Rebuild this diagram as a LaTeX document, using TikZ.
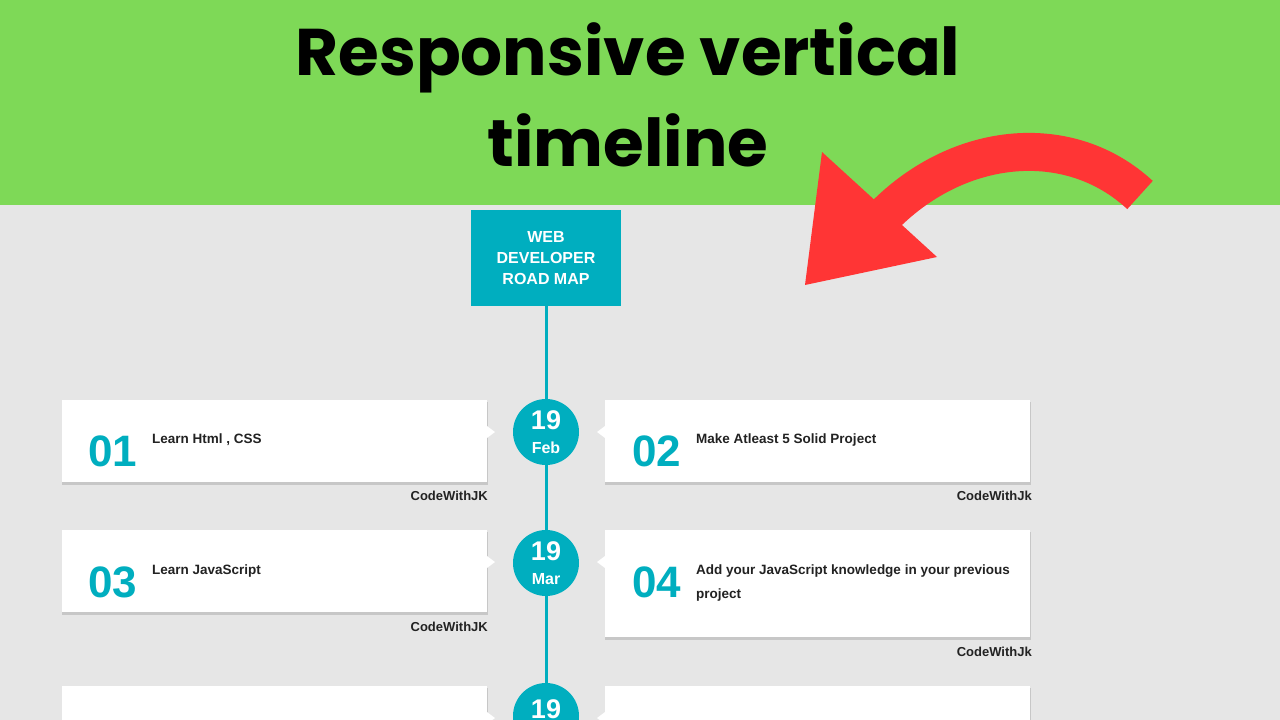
\documentclass[tikz,border=0pt]{standalone}
\usepackage{fontspec}
\setmainfont{Liberation Sans}
\newfontfamily\titlefont{Poppins}
\begin{document}
\begin{tikzpicture}[x=1pt,y=-1pt]
\definecolor{green1}{HTML}{7ED957}
\definecolor{bg}{HTML}{E6E6E6}
\definecolor{teal1}{HTML}{00AEBF}
\definecolor{red1}{HTML}{FF3535}
\definecolor{txt}{HTML}{222222}
\tikzset{
 card/.style={fill=white,draw=none},
 shadow/.style={fill=black!22,draw=none},
 num/.style={text=teal1,font=\bfseries\fontsize{44}{44}\selectfont,anchor=base west,inner sep=0},
 lbl/.style={text=txt,font=\bfseries\fontsize{13.5}{24}\selectfont,anchor=north west,inner sep=0,align=left},
 sig/.style={text=txt,font=\bfseries\fontsize{13}{13}\selectfont,anchor=base east,inner sep=0},
 dot/.style={circle,fill=teal1,minimum size=66pt,inner sep=0},
 day/.style={text=white,font=\bfseries\fontsize{27}{27}\selectfont,anchor=base,inner sep=0},
 mon/.style={text=white,font=\bfseries\fontsize{16}{16}\selectfont,anchor=base,inner sep=0},
}
\useasboundingbox (0,0) rectangle (1280,720);
\fill[bg] (0,0) rectangle (1280,720);
\fill[green1] (0,0) rectangle (1280,205);
\node[font=\titlefont\bfseries\fontsize{66}{66}\selectfont,inner sep=0] (t1) at (628,58) {Responsive vertical};
\node[font=\titlefont\bfseries\fontsize{66}{66}\selectfont,inner sep=0] (t2) at (628,140) {timeline};
% red arrow
\draw[red1,line width=38pt] (1140,195) .. controls (1070,130) and (960,140) .. (885,215);
\fill[red1] (822,152) -- (805,285) -- (937,257) -- cycle;
% header
\node[fill=teal1,text=white,minimum width=150pt,minimum height=96pt,align=center,
 font=\bfseries\fontsize{16}{21}\selectfont] (hdr) at (546,258) {WEB\\DEVELOPER\\ROAD MAP};
\coordinate (bot) at (546,720);
\draw[teal1,line width=3pt] (hdr.south) -- (bot);
% cards
\foreach \y/\h in {400/82,530/82,686/60}{
 \fill[shadow] (62,\y+2) rectangle (488,\y+\h+3);
 \fill[card] (62,\y) rectangle (487,\y+\h);
 \fill[card] (487,\y+26) -- (495,\y+32) -- (487,\y+38) -- cycle;
}
\foreach \y/\h in {400/82,530/107,686/60}{
 \fill[shadow] (605,\y+2) rectangle (1031,\y+\h+3);
 \fill[card] (605,\y) rectangle (1030,\y+\h);
 \fill[card] (605,\y+26) -- (597,\y+32) -- (605,\y+38) -- cycle;
}
\node[dot] (c1) at (546,432) {};
\node[day] (d1) at (546,429) {19};
\node[mon] (m1) at (546,453) {Feb};
\node[dot] (c2) at (546,563) {};
\node[day] (d2) at (546,560) {19};
\node[mon] (m2) at (546,584) {Mar};
\node[dot] (c3) at (546,716) {};
\node[day] (d3) at (546,718) {19};
\node[num] (n1) at (88,466) {01};
\node[lbl] (l1) at (152,434) {Learn Html , CSS};
\node[sig] (s1) at (488,500) {CodeWithJK};
\node[num] (n2) at (632,466) {02};
\node[lbl] (l2) at (696,434) {Make Atleast 5 Solid Project};
\node[sig] (s2) at (1032,500) {CodeWithJk};
\node[num] (n3) at (88,597) {03};
\node[lbl] (l3) at (152,565) {Learn JavaScript};
\node[sig] (s3) at (488,631) {CodeWithJK};
\node[num] (n4) at (632,597) {04};
\node[lbl] (l4) at (696,565) {Add your JavaScript knowledge in your previous\\project};
\node[sig] (s4) at (1032,656) {CodeWithJk};
\end{tikzpicture}
\end{document}
